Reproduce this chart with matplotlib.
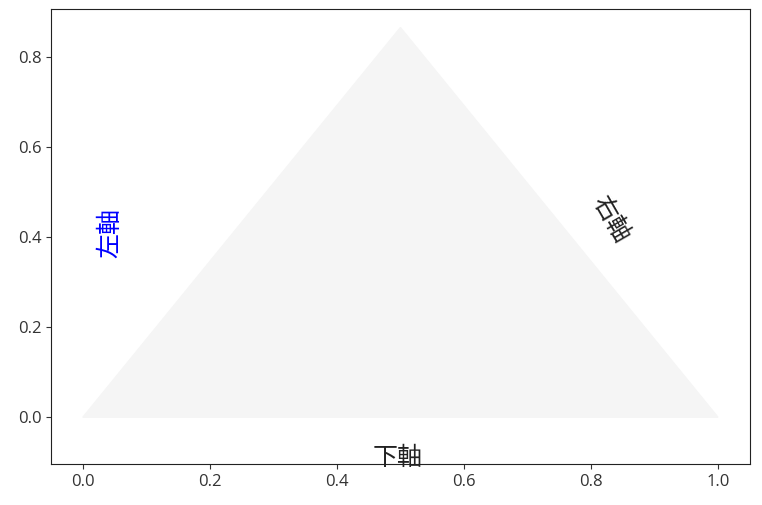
import numpy as np
import matplotlib
matplotlib.use("Agg")
import matplotlib.pyplot as plt

plt.rcParams['font.family'] = ['Noto Sans CJK JP', 'DejaVu Sans']

# triangle corners
tri_x = [0.0, 1.0, 0.5]
tri_y = [0.0, 0.0, np.sqrt(3) / 2]

labels = ["左軸", "右軸", "下軸"]
label_x = [0.043, 0.83, 0.495]
label_y = [0.41, 0.44, -0.09]
label_rot = [90, -60, 0]
label_col = ["blue", "#222222", "#222222"]

fig, ax = plt.subplots(figsize=(7.62, 5.05), dpi=100)
ax.fill(tri_x, tri_y, color="#f5f5f5")
for t, x, y, r, c in zip(labels, label_x, label_y, label_rot, label_col):
    ax.text(x, y, t, rotation=r, color=c, fontsize=18, ha="center", va="center")

ax.set_xlim(-0.05, 1.05)
ax.set_ylim(-0.104, 0.907)
ax.set_xticks([0.0, 0.2, 0.4, 0.6, 0.8, 1.0])
ax.set_yticks([0.0, 0.2, 0.4, 0.6, 0.8])
ax.tick_params(labelsize=12, labelcolor="#333333", color="#333333")
for lab in ax.get_xticklabels() + ax.get_yticklabels():
    lab.set_family("Open Sans")
for s in ax.spines.values():
    s.set_color("#222222")
fig.subplots_adjust(left=0.067, right=0.984, top=0.982, bottom=0.081)
fig.savefig("out.png")
